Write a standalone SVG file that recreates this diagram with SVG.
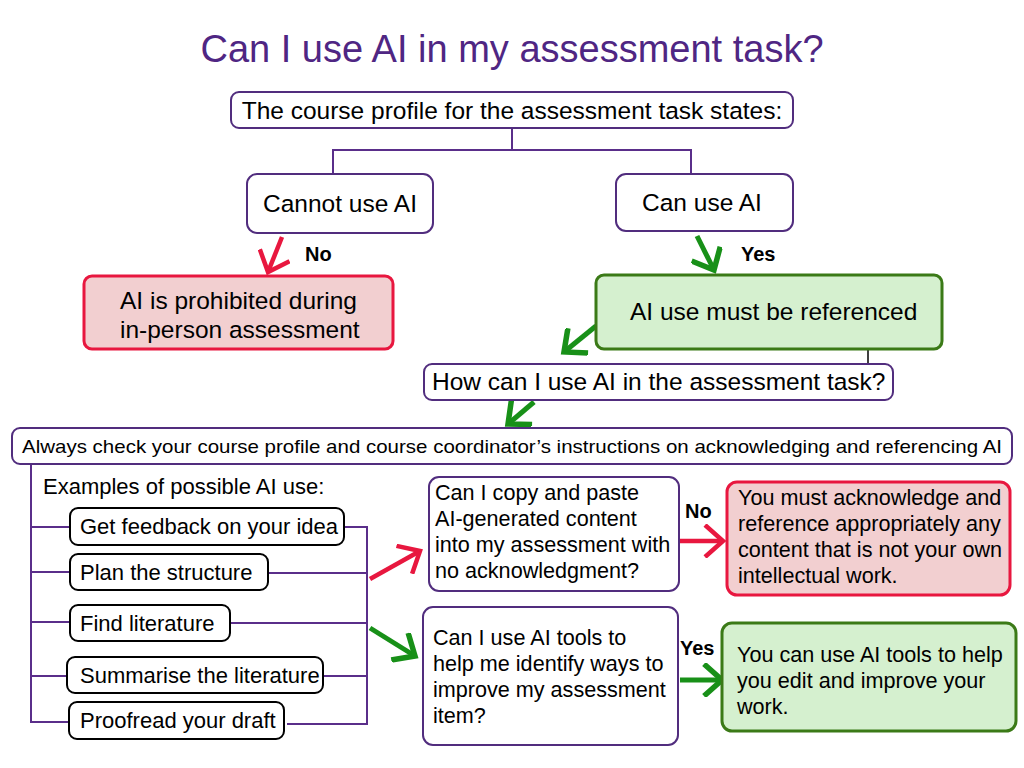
<svg xmlns="http://www.w3.org/2000/svg" width="1024" height="768" viewBox="0 0 1024 768">
<style>
text{font-family:"Liberation Sans",Arial,sans-serif;fill:#000}
.title{font-size:38px;fill:#4f2683}
.t24{font-size:24.5px}
.t22{font-size:22px}
.t21{font-size:21.6px}
.lbl{font-size:20px;font-weight:bold}
.pbox{fill:#fff;stroke:#512d7e;stroke-width:2}
.kbox{fill:#fff;stroke:#000;stroke-width:2}
.rbox{fill:#f2cfd0;stroke:#e8173f;stroke-width:3}
.gbox{fill:#d5f0cf;stroke:#3b7a17;stroke-width:3}
.pl{fill:none;stroke:#5a2e8a;stroke-width:2}
.red{fill:none;stroke:#e8173f;stroke-width:4.5}
.grn{fill:none;stroke:#189018;stroke-width:5}
</style>
<defs>
<marker id="ar" viewBox="0 0 28 34" refX="23" refY="17" markerWidth="28" markerHeight="34" markerUnits="userSpaceOnUse" orient="auto">
<path d="M5,1 L23,17 L5,33" fill="none" stroke="#e8173f" stroke-width="4.5"/>
</marker>
<marker id="ag" viewBox="0 0 28 34" refX="23" refY="17" markerWidth="28" markerHeight="34" markerUnits="userSpaceOnUse" orient="auto">
<path d="M5,1 L23,17 L5,33" fill="none" stroke="#189018" stroke-width="5.5"/>
</marker>
</defs>
<text class="title" x="512" y="62" text-anchor="middle">Can I use AI in my assessment task?</text>

<g id="connectors">
<polyline class="pl" points="512,128 512,150"/>
<polyline class="pl" points="333,176 333,150 691,150 691,176"/>
<line class="red" x1="282" y1="237" x2="268" y2="272" marker-end="url(#ar)"/>
<line class="grn" x1="697" y1="236" x2="714" y2="270" marker-end="url(#ag)"/>
<line class="grn" x1="596" y1="326" x2="564" y2="352" marker-end="url(#ag)"/>
<line x1="868" y1="349" x2="868" y2="364" stroke="#000" stroke-width="1.5"/>
<line class="grn" x1="534" y1="402" x2="508" y2="424" marker-end="url(#ag)"/>
<polyline class="pl" points="31,464 31,723"/>
<line class="pl" x1="31" y1="527" x2="70" y2="527"/>
<line class="pl" x1="31" y1="572" x2="70" y2="572"/>
<line class="pl" x1="31" y1="622" x2="70" y2="622"/>
<line class="pl" x1="31" y1="676" x2="67" y2="676"/>
<line class="pl" x1="31" y1="722" x2="69" y2="722"/>
<polyline class="pl" points="344,527 367,527 367,724 287,724"/>
<line class="pl" x1="268" y1="573" x2="367" y2="573"/>
<line class="pl" x1="230" y1="623" x2="367" y2="623"/>
<line class="pl" x1="323" y1="676" x2="367" y2="676"/>
<line class="red" x1="370" y1="579" x2="420" y2="551" marker-end="url(#ar)"/>
<line class="grn" x1="370" y1="628" x2="415" y2="656" marker-end="url(#ag)"/>
<line class="red" x1="680" y1="541" x2="723" y2="541" marker-end="url(#ar)"/>
<line class="grn" x1="680" y1="680" x2="722" y2="680" marker-end="url(#ag)"/>
<text class="lbl" x="305" y="261">No</text>
<text class="lbl" x="741" y="261">Yes</text>
<text class="lbl" x="685" y="518">No</text>
<text class="lbl" x="680" y="655">Yes</text>
</g>

<g id="n-profile">
<rect class="pbox" x="231" y="92" width="562" height="36" rx="8"/>
<text class="t24" x="512" y="119" text-anchor="middle">The course profile for the assessment task states:</text>
</g>
<g id="n-cannot">
<rect class="pbox" x="247" y="174" width="186" height="59" rx="10"/>
<text class="t24" x="340" y="212" text-anchor="middle">Cannot use AI</text>
</g>
<g id="n-can">
<rect class="pbox" x="616" y="174" width="177" height="57" rx="10"/>
<text class="t24" x="642" y="211">Can use AI</text>
</g>
<g id="n-prohibited">
<rect class="rbox" x="84" y="276" width="309" height="73" rx="8"/>
<text class="t24" x="120" y="309">AI is prohibited during</text>
<text class="t24" x="120" y="338">in-person assessment</text>
</g>
<g id="n-referenced">
<rect class="gbox" x="596" y="275" width="346" height="74" rx="8"/>
<text class="t24" x="630" y="320">AI use must be referenced</text>
</g>
<g id="n-how">
<rect class="pbox" x="424" y="364" width="469" height="36" rx="8"/>
<text class="t24" x="432" y="390">How can I use AI in the assessment task?</text>
</g>
<g id="n-always">
<rect class="pbox" x="12" y="428" width="1000" height="36" rx="8"/>
<text x="22" y="453" font-size="19" textLength="980" lengthAdjust="spacingAndGlyphs">Always check your course profile and course coordinator’s instructions on acknowledging and referencing AI</text>
</g>
<g id="n-examples">
<text class="t22" x="43" y="494">Examples of possible AI use:</text>
</g>
<g id="n-feedback">
<rect class="kbox" x="70" y="508" width="274" height="37" rx="8"/>
<text class="t22" x="80" y="534">Get feedback on your idea</text>
</g>
<g id="n-plan">
<rect class="kbox" x="70" y="554" width="198" height="36" rx="8"/>
<text class="t22" x="80" y="580">Plan the structure</text>
</g>
<g id="n-find">
<rect class="kbox" x="70" y="605" width="160" height="36" rx="8"/>
<text class="t22" x="80" y="631">Find literature</text>
</g>
<g id="n-summarise">
<rect class="kbox" x="67" y="657" width="256" height="36" rx="8"/>
<text class="t22" x="80" y="683">Summarise the literature</text>
</g>
<g id="n-proofread">
<rect class="kbox" x="69" y="702" width="215" height="37" rx="8"/>
<text class="t22" x="80" y="728">Proofread your draft</text>
</g>
<g id="n-q1">
<rect class="pbox" x="429" y="477" width="250" height="114" rx="10"/>
<text class="t21" x="435" y="500">Can I copy and paste</text>
<text class="t21" x="435" y="526">AI-generated content</text>
<text class="t21" x="435" y="552">into my assessment with</text>
<text class="t21" x="435" y="578">no acknowledgment?</text>
</g>
<g id="n-must">
<rect class="rbox" x="727" y="482" width="283" height="113" rx="10"/>
<text class="t21" x="738" y="505">You must acknowledge and</text>
<text class="t21" x="738" y="531">reference appropriately any</text>
<text class="t21" x="738" y="557">content that is not your own</text>
<text class="t21" x="738" y="583">intellectual work.</text>
</g>
<g id="n-q2">
<rect class="pbox" x="423" y="607" width="255" height="138" rx="10"/>
<text class="t21" x="433" y="645">Can I use AI tools to</text>
<text class="t21" x="433" y="671">help me identify ways to</text>
<text class="t21" x="433" y="697">improve my assessment</text>
<text class="t21" x="433" y="723">item?</text>
</g>
<g id="n-canuse">
<rect class="gbox" x="722" y="623" width="294" height="108" rx="10"/>
<text class="t21" x="737" y="662">You can use AI tools to help</text>
<text class="t21" x="737" y="688">you edit and improve your</text>
<text class="t21" x="737" y="714">work.</text>
</g>
</svg>
